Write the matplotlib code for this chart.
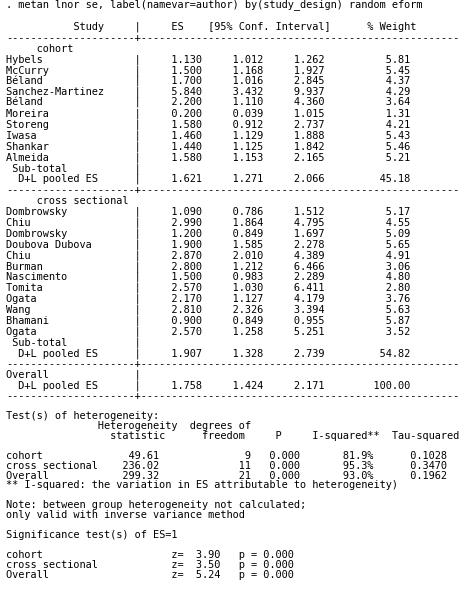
import matplotlib
matplotlib.use("Agg")
import matplotlib.pyplot as plt

cohort_names = ["Hybels", "McCurry", "Béland", "Sanchez-Martinez", "Béland", "Moreira",
                "Storeng", "Iwasa", "Shankar", "Almeida"]
cohort_es = [1.130, 1.500, 1.700, 5.840, 2.200, 0.200, 1.580, 1.460, 1.440, 1.580]
cohort_lo = [1.012, 1.168, 1.016, 3.432, 1.110, 0.039, 0.912, 1.129, 1.125, 1.153]
cohort_hi = [1.262, 1.927, 2.845, 9.937, 4.360, 1.015, 2.737, 1.888, 1.842, 2.165]
cohort_w = [5.81, 5.45, 4.37, 4.29, 3.64, 1.31, 4.21, 5.43, 5.46, 5.21]
cohort_pooled = [1.621, 1.271, 2.066, 45.18]

cross_names = ["Dombrowsky", "Chiu", "Dombrowsky", "Doubova Dubova", "Chiu", "Burman",
               "Nascimento", "Tomita", "Ogata", "Wang", "Bhamani", "Ogata"]
cross_es = [1.090, 2.990, 1.200, 1.900, 2.870, 2.800, 1.500, 2.570, 2.170, 2.810, 0.900, 2.570]
cross_lo = [0.786, 1.864, 0.849, 1.585, 2.010, 1.212, 0.983, 1.030, 1.127, 2.326, 0.849, 1.258]
cross_hi = [1.512, 4.795, 1.697, 2.278, 4.389, 6.466, 2.289, 6.411, 4.179, 3.394, 0.955, 5.251]
cross_w = [5.17, 4.55, 5.09, 5.65, 4.91, 3.06, 4.80, 2.80, 3.76, 5.63, 5.87, 3.52]
cross_pooled = [1.907, 1.328, 2.739, 54.82]
overall_pooled = [1.758, 1.424, 2.171, 100.00]

het_groups = ["cohort", "cross sectional", "Overall"]
het_stat = [49.61, 236.02, 299.32]
het_df = [9, 11, 21]
het_p = [0.000, 0.000, 0.000]
het_i2 = [81.9, 95.3, 93.0]
het_tau2 = [0.1028, 0.3470, 0.1962]
sig_z = [3.90, 3.50, 5.24]
sig_p = [0.000, 0.000, 0.000]

W = 76
def line():
    return [" "] * W
def put(buf, col, text):
    for i, c in enumerate(text):
        if col + i < W:
            buf[col + i] = c
    return buf
def rput(buf, endcol, text):
    return put(buf, endcol - len(text), text)
def s(buf):
    return "".join(buf).rstrip()

DASH = "-" * 21 + "+" + "-" * 52

def row(name, es, lo, hi, w, indent=0):
    b = line()
    put(b, indent, name)
    put(b, 21, "|")
    rput(b, 32, f"{es:.3f}")
    rput(b, 42, f"{lo:.3f}")
    rput(b, 52, f"{hi:.3f}")
    rput(b, 66, f"{w:.2f}")
    return s(b)

def bar_only(name, indent):
    b = line(); put(b, indent, name); put(b, 21, "|"); return s(b)

L = []
L.append(". metan lnor se, label(namevar=author) by(study_design) random eform")
L.append("")
b = line(); put(b, 11, "Study"); put(b, 21, "|"); put(b, 27, "ES"); put(b, 33, "[95% Conf. Interval]"); put(b, 59, "% Weight")
L.append(s(b))
L.append(DASH)
L.append("     cohort")
for i in range(len(cohort_names)):
    L.append(row(cohort_names[i], cohort_es[i], cohort_lo[i], cohort_hi[i], cohort_w[i]))
L.append(bar_only("Sub-total", 1))
L.append(row("D+L pooled ES", *cohort_pooled, indent=2))
L.append(DASH)
L.append("     cross sectional")
for i in range(len(cross_names)):
    L.append(row(cross_names[i], cross_es[i], cross_lo[i], cross_hi[i], cross_w[i]))
L.append(bar_only("Sub-total", 1))
L.append(row("D+L pooled ES", *cross_pooled, indent=2))
L.append(DASH)
L.append(bar_only("Overall", 0))
L.append(row("D+L pooled ES", *overall_pooled, indent=2))
L.append(DASH)
L.append("")
L.append("Test(s) of heterogeneity:")
b = line(); put(b, 15, "Heterogeneity"); put(b, 30, "degrees of"); L.append(s(b))
b = line(); put(b, 17, "statistic"); put(b, 32, "freedom"); put(b, 44, "P"); put(b, 50, "I-squared**"); put(b, 63, "Tau-squared"); L.append(s(b))
L.append("")
for i in range(3):
    b = line()
    put(b, 0, het_groups[i])
    rput(b, 25, f"{het_stat[i]:.2f}")
    rput(b, 40, f"{het_df[i]}")
    rput(b, 48, f"{het_p[i]:.3f}")
    rput(b, 60, f"{het_i2[i]:.1f}%")
    rput(b, 72, f"{het_tau2[i]:.4f}")
    L.append(s(b))
L.append("** I-squared: the variation in ES attributable to heterogeneity)")
L.append("")
L.append("Note: between group heterogeneity not calculated;")
L.append("only valid with inverse variance method")
L.append("")
L.append("Significance test(s) of ES=1")
L.append("")
for i in range(3):
    b = line()
    put(b, 0, het_groups[i])
    put(b, 27, "z=")
    rput(b, 35, f"{sig_z[i]:.2f}")
    put(b, 38, f"p = {sig_p[i]:.3f}")
    L.append(s(b))

fig = plt.figure(figsize=(4.74, 6.01), dpi=100)
fig.patch.set_facecolor("white")
H = 601.0
for k, t in enumerate(L):
    if k <= 35:
        y = 5 + k * (381.0 / 35)
    else:
        y = 386 + (k - 35) * (189.0 / 19)
    fig.text(6 / 474.0, 1 - y / H, t, family="DejaVu Sans Mono", fontsize=7.4,
             va="center", ha="left", color="black")
fig.savefig("out.png", dpi=100, facecolor="white")
